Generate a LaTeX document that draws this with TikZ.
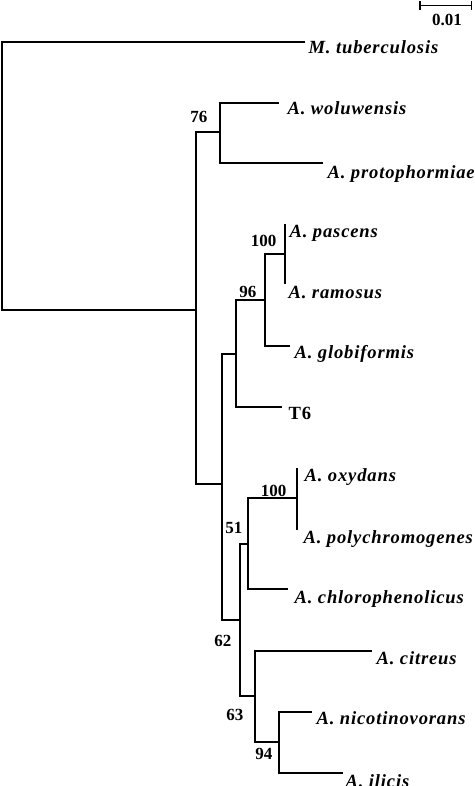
\documentclass[tikz,border=0pt]{standalone}
\usepackage{fontspec}
\setmainfont{Liberation Serif}
\newfontfamily\taxfont{Liberation Serif}[LetterSpace=4.5]
\begin{document}
\begin{tikzpicture}[x=1pt,y=-1pt,line width=1.1pt,line join=miter]
\tikzset{
  taxon/.style={anchor=base west,inner sep=0pt,font=\taxfont\fontsize{18.6}{20}\selectfont\bfseries\itshape},
  plain/.style={anchor=base west,inner sep=0pt,font=\taxfont\fontsize{18.6}{20}\selectfont\bfseries},
  boot/.style={anchor=base east,inner sep=0pt,font=\fontsize{17}{19}\selectfont\bfseries},
  branch/.style={draw=black,line width=1.1pt},
  rootline/.style={draw=black!70,line width=2pt}
}
\useasboundingbox (0,0) rectangle (474,786);
\clip (0,0) rectangle (474,786);
% scale bar
\coordinate (sbL) at (420,5.5);
\coordinate (sbR) at (471.5,5.5);
\draw[branch] (sbL) -- (sbR);
\draw[branch] ([yshift=-4.5pt]sbL) -- ([yshift=4.5pt]sbL);
\draw[branch] ([yshift=-4.5pt]sbR) -- ([yshift=4.5pt]sbR);
\node[anchor=base,inner sep=0pt,font=\fontsize{17}{19}\selectfont\bfseries] (sblab) at (447,26) {0.01};
% internal nodes
\coordinate (root) at (2,176);
\coordinate (n1) at (196,310);
\coordinate (n76) at (220,132);
\coordinate (n2) at (222,484);
\coordinate (n3) at (236,354);
\coordinate (n96) at (265,300);
\coordinate (n100a) at (285,254);
\coordinate (n62) at (240,620);
\coordinate (n51) at (248,544);
\coordinate (n100b) at (297,498);
\coordinate (n63) at (255,696);
\coordinate (n94) at (279,742);
% leaf ends
\coordinate (eMtb) at (305,42);
\coordinate (eWol) at (279,103);
\coordinate (ePro) at (323,163);
\coordinate (ePas) at (285,224);
\coordinate (eRam) at (285,284);
\coordinate (eGlo) at (290,346);
\coordinate (eT6) at (282,407);
\coordinate (eOxy) at (297,468);
\coordinate (ePol) at (297,530);
\coordinate (eChl) at (288,589);
\coordinate (eCit) at (372,651);
\coordinate (eNic) at (312,712);
\coordinate (eIli) at (343,773);
% branches
\draw[rootline] (eMtb -| root) -- (n1 -| root);
\draw[branch] (root) |- (eMtb);
\draw[branch] (root) |- (n1);
\draw[branch] (n1) |- (n76);
\draw[branch] (n1) |- (n2);
\draw[branch] (n76) |- (eWol);
\draw[branch] (n76) |- (ePro);
\draw[branch] (n2) |- (n3);
\draw[branch] (n2) |- (n62);
\draw[branch] (n3) |- (n96);
\draw[branch] (n3) |- (eT6);
\draw[branch] (n96) |- (n100a);
\draw[branch] (n96) |- (eGlo);
\draw[branch] (n100a) |- (ePas);
\draw[branch] (n100a) |- (eRam);
\draw[branch] (n62) |- (n51);
\draw[branch] (n62) |- (n63);
\draw[branch] (n51) |- (n100b);
\draw[branch] (n51) |- (eChl);
\draw[branch] (n100b) |- (eOxy);
\draw[branch] (n100b) |- (ePol);
\draw[branch] (n63) |- (eCit);
\draw[branch] (n63) |- (n94);
\draw[branch] (n94) |- (eNic);
\draw[branch] (n94) |- (eIli);
% taxon labels
\node[taxon] (tMtb) at (308,54) {M. tuberculosis};
\node[taxon] (tWol) at (287,115) {A. woluwensis};
\node[taxon] (tPro) at (327,179) {A. protophormiae};
\node[taxon] (tPas) at (289,237) {A. pascens};
\node[taxon] (tRam) at (288,298) {A. ramosus};
\node[taxon] (tGlo) at (294,358) {A. globiformis};
\node[plain] (tT6) at (288,419) {T6};
\node[taxon] (tOxy) at (304,481) {A. oxydans};
\node[taxon] (tPol) at (303,543) {A. polychromogenes};
\node[taxon] (tChl) at (294,603) {A. chlorophenolicus};
\node[taxon] (tCit) at (376,664) {A. citreus};
\node[taxon] (tNic) at (316,724) {A. nicotinovorans};
\node[taxon] (tIli) at (345,787) {A. ilicis};
% bootstrap values
\node[boot] (b76) at (208,123) {76};
\node[boot] (b100a) at (277,247) {100};
\node[boot] (b96) at (257,297) {96};
\node[boot] (b100b) at (287,496) {100};
\node[boot] (b51) at (243,533) {51};
\node[boot] (b62) at (232,646) {62};
\node[boot] (b63) at (244,720) {63};
\node[boot] (b94) at (273,759) {94};
\end{tikzpicture}
\end{document}
